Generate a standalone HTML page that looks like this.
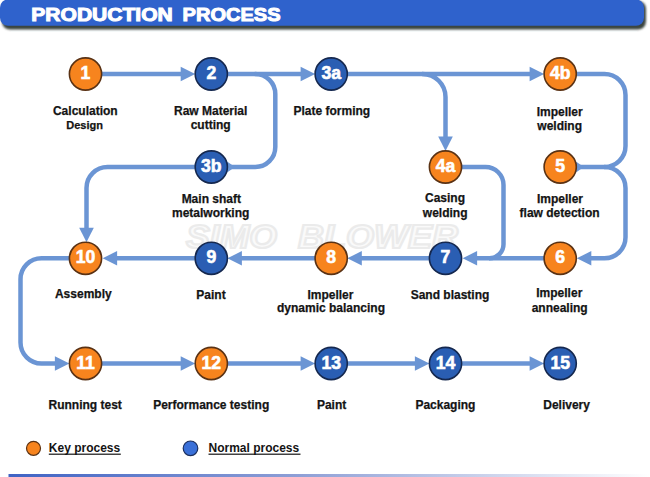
<!DOCTYPE html>
<html><head><meta charset="utf-8"><style>
html,body{margin:0;padding:0;background:#fff;}
body{width:650px;height:477px;overflow:hidden;position:relative;font-family:"Liberation Sans",sans-serif;}
svg{position:absolute;left:0;top:0;}
.num{font-family:"Liberation Sans",sans-serif;font-weight:bold;font-size:17.6px;fill:#fff;stroke:#fff;stroke-width:0.6px;}
.lab text{font-family:"Liberation Sans",sans-serif;font-weight:bold;fill:#141414;stroke:#141414;stroke-width:0.25px;}
</style></head><body>
<svg width="650" height="477" viewBox="0 0 650 477">
<defs>
<linearGradient id="bot" x1="0" x2="1" y1="0" y2="0">
<stop offset="0" stop-color="#3f63c4"/><stop offset="0.45" stop-color="#8e9fd6"/><stop offset="1" stop-color="#ffffff"/>
</linearGradient>
<filter id="sh" x="-5%" y="-50%" width="110%" height="200%"><feGaussianBlur stdDeviation="0.8"/></filter>
</defs>
<!-- header -->
<rect x="2" y="1" width="644" height="28.5" rx="8" fill="#3b4440" filter="url(#sh)"/>
<rect x="0" y="-0.5" width="644" height="26.3" rx="8" fill="#2f62cc"/>
<text x="31.3" y="21.3" font-family="Liberation Sans" font-weight="bold" font-size="18.3" fill="#fff" stroke="#fff" stroke-width="1.0" textLength="141.5" lengthAdjust="spacingAndGlyphs">PRODUCTION</text>
<text x="182.6" y="21.3" font-family="Liberation Sans" font-weight="bold" font-size="18.3" fill="#fff" stroke="#fff" stroke-width="1.0" textLength="98" lengthAdjust="spacingAndGlyphs">PROCESS</text>
<!-- watermark -->
<g font-family="Liberation Sans" font-weight="bold" font-style="italic" font-size="33" fill="#fafafa" stroke="#ebebeb" stroke-width="2.2" lengthAdjust="spacingAndGlyphs">
<text x="186" y="247.5" textLength="91" lengthAdjust="spacingAndGlyphs">SIMO</text>
<text x="298" y="247.5" textLength="160" lengthAdjust="spacingAndGlyphs">BLOWER</text>
</g>
<g fill="none" stroke="#6b95d4" stroke-width="4.5">
<path d="M85.50 74 H181.70"/>
<path d="M211.30 74 H301.60"/>
<path d="M331.20 74 H530.60"/>
<path d="M254.80 74.00 L255.30 74.00 A20.00 20.00 0 0 1 275.30 94.00 L275.30 147.00 A20.00 20.00 0 0 1 255.30 167.00 L211.30 167.00"/>
<path d="M422.00 74.00 L422.50 74.00 A23.00 23.00 0 0 1 445.50 97.00 L445.50 137.40"/>
<path d="M560.20 74.00 L604.50 74.00 A21.00 21.00 0 0 1 625.50 95.00 L625.50 146.00 A21.00 21.00 0 0 1 604.50 167.00 L560.20 167.00"/>
<path d="M604.00 167.00 L604.50 167.00 A21.00 21.00 0 0 1 625.50 188.00 L625.50 237.30 A21.00 21.00 0 0 1 604.50 258.30 L589.80 258.30"/>
<path d="M445.50 167.00 L485.50 167.00 A18.00 18.00 0 0 1 503.50 185.00 L503.50 244.30 A14.00 14.00 0 0 1 489.50 258.30 L489.00 258.30"/>
<path d="M560.20 258.3 H475.10"/>
<path d="M445.50 258.3 H360.80"/>
<path d="M331.20 258.3 H240.90"/>
<path d="M211.30 258.3 H115.10"/>
<path d="M211.30 167.00 L107.50 167.00 A21.00 21.00 0 0 0 86.50 188.00 L86.50 228.70"/>
<path d="M85.50 258.30 L41.50 258.30 A21.00 21.00 0 0 0 20.50 279.30 L20.50 342.50 A21.00 21.00 0 0 0 41.50 363.50 L55.90 363.50"/>
<path d="M85.50 363.5 H181.70"/>
<path d="M211.30 363.5 H301.60"/>
<path d="M331.20 363.5 H415.90"/>
<path d="M445.50 363.5 H530.60"/>
</g>
<path d="M195.2 74.0 L180.7 66.8 L180.7 81.2 Z" fill="#6b95d4"/>
<path d="M315.1 74.0 L300.6 66.8 L300.6 81.2 Z" fill="#6b95d4"/>
<path d="M544.1 74.0 L529.6 66.8 L529.6 81.2 Z" fill="#6b95d4"/>
<path d="M234.9 167.0 L224.9 160.0 L224.9 174.0 Z" fill="#6b95d4"/>
<path d="M445.5 150.9 L438.2 136.4 L452.8 136.4 Z" fill="#6b95d4"/>
<path d="M583.8 167.0 L573.8 160.0 L573.8 174.0 Z" fill="#6b95d4"/>
<path d="M576.8 258.3 L591.3 251.1 L591.3 265.6 Z" fill="#6b95d4"/>
<path d="M462.6 258.3 L477.1 251.1 L477.1 265.6 Z" fill="#6b95d4"/>
<path d="M347.3 258.3 L361.8 251.1 L361.8 265.6 Z" fill="#6b95d4"/>
<path d="M227.4 258.3 L241.9 251.1 L241.9 265.6 Z" fill="#6b95d4"/>
<path d="M102.6 258.3 L117.1 251.1 L117.1 265.6 Z" fill="#6b95d4"/>
<path d="M86.5 242.2 L79.2 227.7 L93.8 227.7 Z" fill="#6b95d4"/>
<path d="M69.4 363.5 L54.9 356.2 L54.9 370.8 Z" fill="#6b95d4"/>
<path d="M195.2 363.5 L180.7 356.2 L180.7 370.8 Z" fill="#6b95d4"/>
<path d="M315.1 363.5 L300.6 356.2 L300.6 370.8 Z" fill="#6b95d4"/>
<path d="M429.4 363.5 L414.9 356.2 L414.9 370.8 Z" fill="#6b95d4"/>
<path d="M544.1 363.5 L529.6 356.2 L529.6 370.8 Z" fill="#6b95d4"/>
<circle cx="85.5" cy="74" r="16.1" fill="#f7841e" stroke="#5a3214" stroke-width="1.6"/>
<text x="85.5" y="79.1" text-anchor="middle" class="num">1</text>
<circle cx="211.3" cy="74" r="16.1" fill="#2a5eb3" stroke="#15284f" stroke-width="1.6"/>
<text x="211.3" y="79.1" text-anchor="middle" class="num">2</text>
<circle cx="331.2" cy="74" r="16.1" fill="#2a5eb3" stroke="#15284f" stroke-width="1.6"/>
<text x="331.2" y="79.1" text-anchor="middle" class="num">3a</text>
<circle cx="560.2" cy="74" r="16.1" fill="#f7841e" stroke="#5a3214" stroke-width="1.6"/>
<text x="560.2" y="79.1" text-anchor="middle" class="num">4b</text>
<circle cx="211.3" cy="167" r="16.1" fill="#2a5eb3" stroke="#15284f" stroke-width="1.6"/>
<text x="211.3" y="172.1" text-anchor="middle" class="num">3b</text>
<circle cx="445.5" cy="167" r="16.1" fill="#f7841e" stroke="#5a3214" stroke-width="1.6"/>
<text x="445.5" y="172.1" text-anchor="middle" class="num">4a</text>
<circle cx="560.2" cy="167" r="16.1" fill="#f7841e" stroke="#5a3214" stroke-width="1.6"/>
<text x="560.2" y="172.1" text-anchor="middle" class="num">5</text>
<circle cx="85.5" cy="258.3" r="16.1" fill="#f7841e" stroke="#5a3214" stroke-width="1.6"/>
<text x="85.5" y="263.4" text-anchor="middle" class="num">10</text>
<circle cx="211.3" cy="258.3" r="16.1" fill="#2a5eb3" stroke="#15284f" stroke-width="1.6"/>
<text x="211.3" y="263.4" text-anchor="middle" class="num">9</text>
<circle cx="331.2" cy="258.3" r="16.1" fill="#f7841e" stroke="#5a3214" stroke-width="1.6"/>
<text x="331.2" y="263.4" text-anchor="middle" class="num">8</text>
<circle cx="445.5" cy="258.3" r="16.1" fill="#2a5eb3" stroke="#15284f" stroke-width="1.6"/>
<text x="445.5" y="263.4" text-anchor="middle" class="num">7</text>
<circle cx="560.2" cy="258.3" r="16.1" fill="#f7841e" stroke="#5a3214" stroke-width="1.6"/>
<text x="560.2" y="263.4" text-anchor="middle" class="num">6</text>
<circle cx="85.5" cy="363.5" r="16.1" fill="#f7841e" stroke="#5a3214" stroke-width="1.6"/>
<text x="85.5" y="368.6" text-anchor="middle" class="num">11</text>
<circle cx="211.3" cy="363.5" r="16.1" fill="#f7841e" stroke="#5a3214" stroke-width="1.6"/>
<text x="211.3" y="368.6" text-anchor="middle" class="num">12</text>
<circle cx="331.2" cy="363.5" r="16.1" fill="#2a5eb3" stroke="#15284f" stroke-width="1.6"/>
<text x="331.2" y="368.6" text-anchor="middle" class="num">13</text>
<circle cx="445.5" cy="363.5" r="16.1" fill="#2a5eb3" stroke="#15284f" stroke-width="1.6"/>
<text x="445.5" y="368.6" text-anchor="middle" class="num">14</text>
<circle cx="560.2" cy="363.5" r="16.1" fill="#2a5eb3" stroke="#15284f" stroke-width="1.6"/>
<text x="560.2" y="368.6" text-anchor="middle" class="num">15</text>
<g class="lab">
<text x="85.3" y="115.0" text-anchor="middle" font-size="12">Calculation</text>
<text x="84.6" y="129.0" text-anchor="middle" font-size="11">Design</text>
<text x="210.7" y="114.7" text-anchor="middle" font-size="12">Raw Material</text>
<text x="210.7" y="128.7" text-anchor="middle" font-size="12">cutting</text>
<text x="331.8" y="115.0" text-anchor="middle" font-size="12">Plate forming</text>
<text x="559.7" y="115.8" text-anchor="middle" font-size="12">Impeller</text>
<text x="559.7" y="130.3" text-anchor="middle" font-size="12">welding</text>
<text x="211.3" y="203.2" text-anchor="middle" font-size="12">Main shaft</text>
<text x="210.7" y="217.3" text-anchor="middle" font-size="12">metalworking</text>
<text x="445" y="202.4" text-anchor="middle" font-size="12">Casing</text>
<text x="445.2" y="216.6" text-anchor="middle" font-size="12">welding</text>
<text x="560" y="202.6" text-anchor="middle" font-size="12">Impeller</text>
<text x="559.6" y="216.7" text-anchor="middle" font-size="12">flaw detection</text>
<text x="83.3" y="297.9" text-anchor="middle" font-size="12">Assembly</text>
<text x="211" y="299.2" text-anchor="middle" font-size="12">Paint</text>
<text x="330.4" y="298.6" text-anchor="middle" font-size="12">Impeller</text>
<text x="331" y="312.1" text-anchor="middle" font-size="12">dynamic balancing</text>
<text x="450" y="298.9" text-anchor="middle" font-size="12">Sand blasting</text>
<text x="559.3" y="297.2" text-anchor="middle" font-size="12">Impeller</text>
<text x="559.7" y="311.5" text-anchor="middle" font-size="12">annealing</text>
<text x="85.2" y="409.1" text-anchor="middle" font-size="12">Running test</text>
<text x="211.2" y="408.9" text-anchor="middle" font-size="12">Performance testing</text>
<text x="331.6" y="408.9" text-anchor="middle" font-size="12">Paint</text>
<text x="445.4" y="408.9" text-anchor="middle" font-size="12">Packaging</text>
<text x="566.6" y="408.6" text-anchor="middle" font-size="12">Delivery</text>
</g>
<!-- legend -->
<circle cx="33.5" cy="448.3" r="7" fill="#f7841e" stroke="#5a3214" stroke-width="1.2"/>
<circle cx="190.5" cy="448.3" r="7.3" fill="#3a70d8" stroke="#1b2f5e" stroke-width="1.2"/>
<text x="48.8" y="452.2" font-family="Liberation Sans" font-weight="bold" font-size="12" fill="#141414">Key process</text>
<rect x="48.8" y="453.6" width="72" height="1.2" fill="#141414"/>
<text x="208.5" y="452.2" font-family="Liberation Sans" font-weight="bold" font-size="12" fill="#141414">Normal process</text>
<rect x="208.5" y="453.6" width="92" height="1.2" fill="#141414"/>
<!-- bottom bar -->
<rect x="8.5" y="474" width="641.5" height="3" fill="url(#bot)"/>
</svg>
</body></html>
